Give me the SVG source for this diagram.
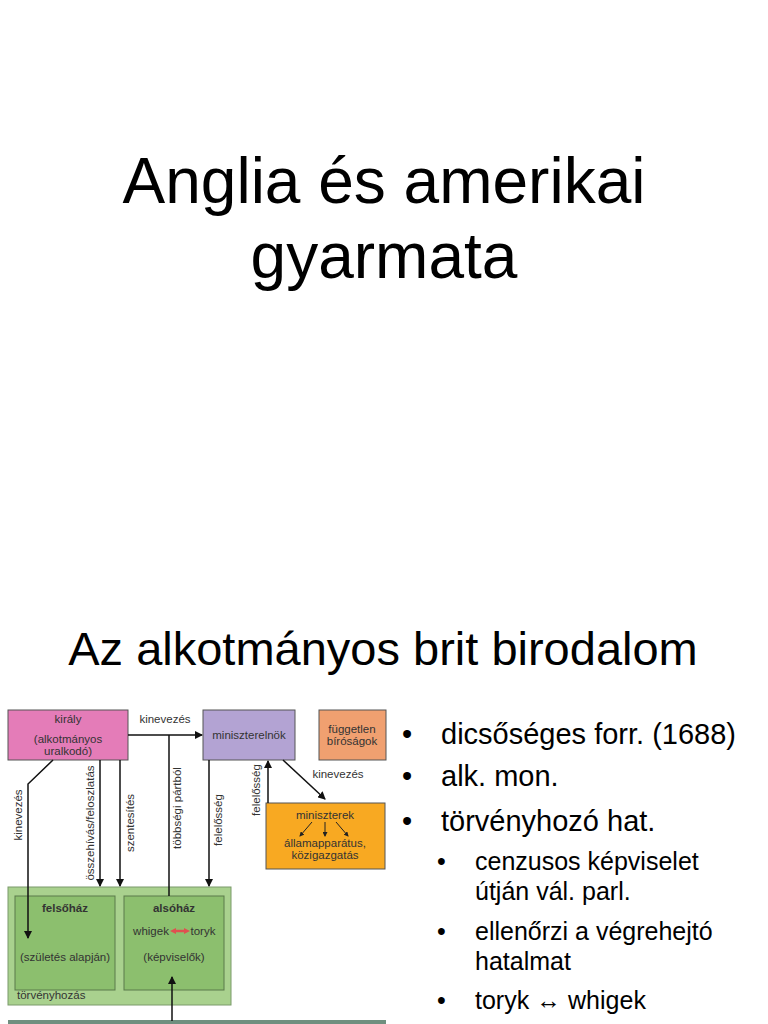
<svg xmlns="http://www.w3.org/2000/svg" width="768" height="1024" viewBox="0 0 768 1024">
<defs>
<marker id="ah" markerWidth="8" markerHeight="8" refX="7" refY="4" orient="auto" markerUnits="userSpaceOnUse"><path d="M0,0 L8,4 L0,8 z" fill="#111"/></marker>
<marker id="sah" markerWidth="5" markerHeight="5" refX="4" refY="2.5" orient="auto" markerUnits="userSpaceOnUse"><path d="M0,0 L5,2.5 L0,5 z" fill="#222"/></marker>
</defs>
<style>
.t{font-family:"Liberation Sans",Arial,sans-serif;fill:#000}
.s{font-family:"Liberation Sans",Arial,sans-serif;font-size:11.5px;fill:#333}
.b{font-weight:bold}
.ln{stroke:#111;stroke-width:1.5;fill:none}
</style>
<rect width="768" height="1024" fill="#fff"/>
<text class="t" x="384" y="203" font-size="64" text-anchor="middle">Anglia és amerikai</text>
<text class="t" x="384" y="278" font-size="64" text-anchor="middle">gyarmata</text>
<text class="t" x="383" y="665" font-size="47" text-anchor="middle">Az alkotmányos brit birodalom</text>

<g id="torvenyhozas"><rect x="8" y="887" width="223" height="118" fill="#a9d18e" stroke="#7a9a6a"/><text class="s" x="17" y="999">törvényhozás</text></g>
<g id="felsohaz"><rect x="15" y="896" width="100" height="94" fill="#8cbf6e" stroke="#5a7a4a"/><text class="s b" x="65" y="912" text-anchor="middle">felsőház</text><text class="s" x="65" y="961" text-anchor="middle">(születés alapján)</text></g>
<g id="alsohaz"><rect x="124" y="896" width="100" height="94" fill="#8cbf6e" stroke="#5a7a4a"/><text class="s b" x="174" y="912" text-anchor="middle">alsóház</text><text class="s" x="151" y="935" text-anchor="middle">whigek</text><text class="s" x="203" y="935" text-anchor="middle">toryk</text><path d="M175,931 h10" stroke="#e05050" stroke-width="2.5"/><path d="M170,931 l6,-3 v6 z M190,931 l-6,-3 v6 z" fill="#e05050"/><text class="s" x="174" y="961" text-anchor="middle">(képviselők)</text></g>
<g id="bottom"><rect x="8" y="1020" width="378" height="10" fill="#6f8f7f"/></g>
<g id="kiraly"><rect x="8" y="710" width="120" height="50" fill="#e47cb8" stroke="#555"/><text class="s" x="68" y="723" text-anchor="middle">király</text><text class="s" x="68" y="743" text-anchor="middle">(alkotmányos</text><text class="s" x="68" y="755" text-anchor="middle">uralkodó)</text></g>
<g id="miniszterelnok"><rect x="203" y="710" width="92" height="50" fill="#b3a3d3" stroke="#555"/><text class="s" x="249" y="739" text-anchor="middle">miniszterelnök</text></g>
<g id="fuggetlen"><rect x="319" y="710" width="67" height="50" fill="#f0a070" stroke="#555"/><text class="s" x="352" y="733" text-anchor="middle">független</text><text class="s" x="352" y="745" text-anchor="middle">bíróságok</text></g>
<g id="miniszterek"><rect x="266" y="803" width="119" height="66" fill="#f8a922" stroke="#555"/><text class="s" x="325" y="819" text-anchor="middle">miniszterek</text><text class="s" x="325" y="847" text-anchor="middle">államapparátus,</text><text class="s" x="325" y="859" text-anchor="middle">közigazgatás</text>
<path d="M312,822 L300,836" stroke="#222" marker-end="url(#sah)"/><path d="M325,822 L325,836" stroke="#222" marker-end="url(#sah)"/><path d="M336,822 L348,836" stroke="#222" marker-end="url(#sah)"/></g>

<g id="connectors">
<path class="ln" d="M128,735 H202" marker-end="url(#ah)"/>
<text class="s" x="165" y="723" text-anchor="middle">kinevezés</text>
<path class="ln" d="M169,735 V896"/>
<path class="ln" d="M53,760 L28,784 V938" marker-end="url(#ah)"/>
<path class="ln" d="M100,760 V886" marker-end="url(#ah)"/>
<path class="ln" d="M120,760 V886" marker-end="url(#ah)"/>
<path class="ln" d="M209,760 V886" marker-end="url(#ah)"/>
<path class="ln" d="M268,803 V761" marker-end="url(#ah)"/>
<path class="ln" d="M283,760 L325,799" marker-end="url(#ah)"/>
<path class="ln" d="M172,1021 V977" marker-end="url(#ah)"/>
<text class="s" x="338" y="778" text-anchor="middle">kinevezés</text>
<text class="s" transform="translate(22,815) rotate(-90)" text-anchor="middle">kinevezés</text>
<text class="s" transform="translate(94,823) rotate(-90)" text-anchor="middle">összehívás/feloszlatás</text>
<text class="s" transform="translate(134,823) rotate(-90)" text-anchor="middle">szentesítés</text>
<text class="s" transform="translate(181,808) rotate(-90)" text-anchor="middle">többségi pártból</text>
<text class="s" transform="translate(222,820) rotate(-90)" text-anchor="middle">felelősség</text>
<text class="s" transform="translate(260,790) rotate(-90)" text-anchor="middle">felelősség</text>
</g>

<g id="bullets" class="t" font-size="29">
<text x="402" y="744">•</text><text x="441" y="744">dicsőséges forr. (1688)</text>
<text x="402" y="786">•</text><text x="441" y="786">alk. mon.</text>
<text x="402" y="831">•</text><text x="441" y="831">törvényhozó hat.</text>
</g>
<g class="t" font-size="25">
<text x="437" y="870">•</text><text x="475" y="870">cenzusos képviselet</text><text x="475" y="900">útján vál. parl.</text>
<text x="437" y="940">•</text><text x="475" y="940">ellenőrzi a végrehejtó</text><text x="475" y="970">hatalmat</text>
<text x="437" y="1009">•</text><text x="475" y="1009">toryk ↔ whigek</text>
</g>
</svg>
